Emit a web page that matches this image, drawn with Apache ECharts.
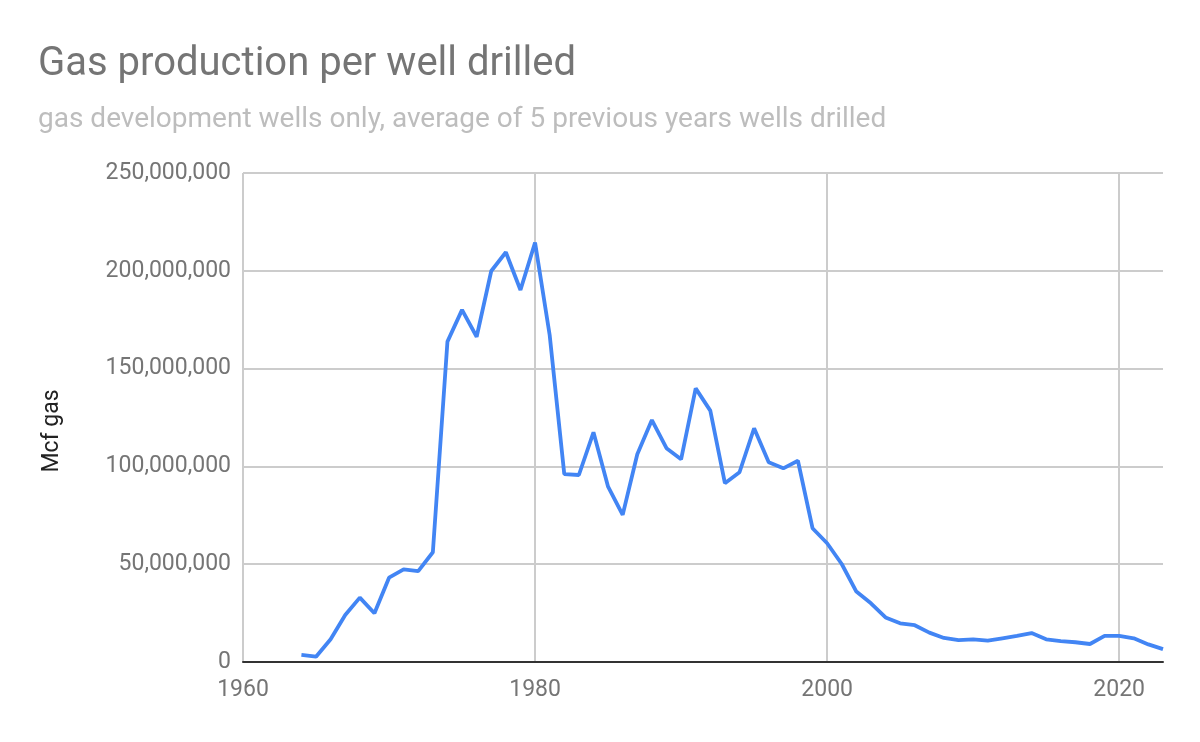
<!DOCTYPE html>
<html><head><meta charset="utf-8">
<script src="https://cdn.jsdelivr.net/npm/echarts@6/dist/echarts.min.js"></script>
<style>html,body{margin:0;padding:0;background:#fff}#c{width:1200px;height:742px}</style>
</head><body><div id="c"></div>
<script>
const title = "Gas production per well drilled";
const subtitle = "gas development wells only, average of 5 previous years wells drilled";
const yAxisName = "Mcf gas";
const years = [1964,1965,1966,1967,1968,1969,1970,1971,1972,1973,1974,1975,1976,1977,1978,1979,1980,1981,1982,1983,1984,1985,1986,1987,1988,1989,1990,1991,1992,1993,1994,1995,1996,1997,1998,1999,2000,2001,2002,2003,2004,2005,2006,2007,2008,2009,2010,2011,2012,2013,2014,2015,2016,2017,2018,2019,2020,2021,2022,2023];
const gasMillions = [3.6,2.7,11.6,24,32.9,24.9,43.1,47.4,46.5,56.1,163.8,180,166.3,199.9,209.5,190.2,214.4,167.2,96.1,95.6,117.4,89.6,75.2,106.2,123.7,109.3,103.6,139.9,128.5,91.4,97,119.5,102.1,99,102.9,68.4,60.7,50.1,36,30,22.8,19.8,18.8,15,12.3,11.2,11.6,10.9,12.1,13.3,14.8,11.6,10.7,10.1,9.2,13.4,13.4,12.1,9,6.6];

const data = years.map((y,i)=>[y, gasMillions[i]*1e6]);
const chart = echarts.init(document.getElementById('c'));
chart.setOption({
  animation:false,
  backgroundColor:'#fff',
  title:{
    text:title, subtext:subtitle, left:33, top:40, itemGap:21,
    textStyle:{fontFamily:'Roboto',fontSize:40,fontWeight:'normal',color:'#757575'},
    subtextStyle:{fontFamily:'Roboto',fontSize:28,color:'#bdbdbd'}
  },
  graphic:[{
    type:'text', x:52, y:431, rotation:Math.PI/2,
    style:{text:yAxisName, fontFamily:'Roboto', fontSize:23, fill:'#222', align:'center', verticalAlign:'middle'}
  }],
  grid:{left:243,right:37,top:173,bottom:80,containLabel:false},
  xAxis:{
    type:'value', min:1960, max:2023, interval:20,
    axisLine:{show:true,onZero:false,lineStyle:{color:'#333',width:2}},
    axisTick:{show:false},
    axisLabel:{fontFamily:'Roboto',fontSize:23,color:'#757575',margin:17,showMaxLabel:false,
      formatter:v=>String(v)},
    splitLine:{show:true,lineStyle:{color:['#cccccc','#cccccc','#cccccc','#cccccc','rgba(0,0,0,0)'],width:2}}
  },
  yAxis:{
    type:'value', min:0, max:250000000, interval:50000000,
    axisLine:{show:false}, axisTick:{show:false},
    axisLabel:{fontFamily:'Roboto',fontSize:23,color:'#757575',margin:12,padding:[5,0,0,0],
      formatter:v=>v.toLocaleString('en-US')},
    splitLine:{show:true,lineStyle:{color:'#cccccc',width:2}}
  },
  series:[{
    type:'line', data:data, symbol:'none', smooth:false,
    lineStyle:{color:'#4285F4',width:3.8}, itemStyle:{color:'#4285F4'}
  }]
});
</script></body></html>
